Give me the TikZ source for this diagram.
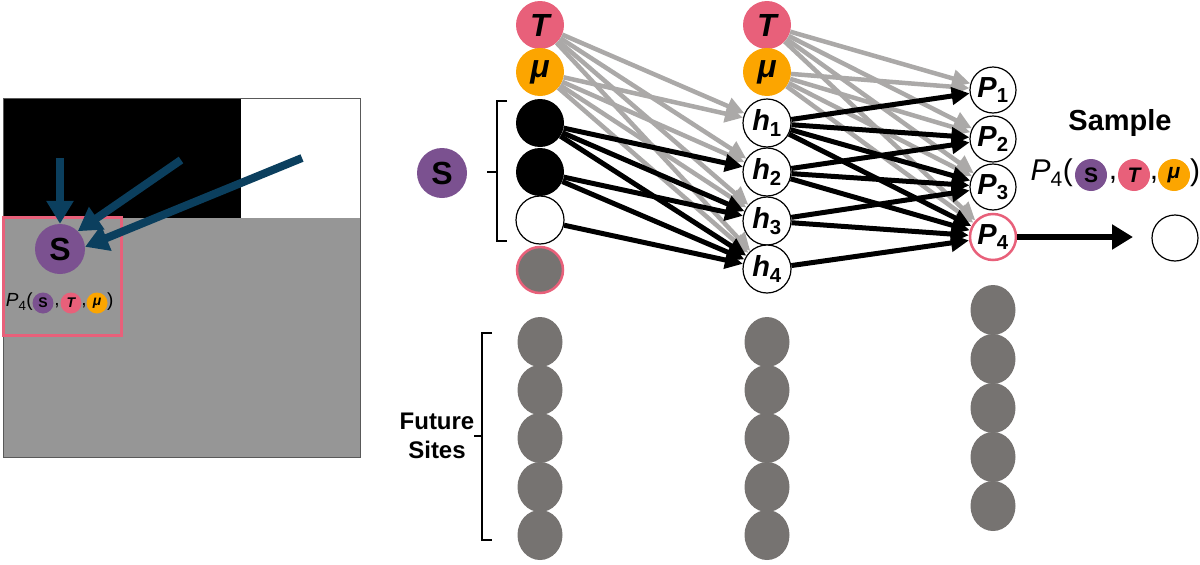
\documentclass[tikz,border=0pt]{standalone}
\usepackage{fontspec}
\setmainfont{Liberation Sans}
\usetikzlibrary{arrows.meta,shapes.geometric}
\definecolor{tcol}{HTML}{E8607A}
\definecolor{mucol}{HTML}{FCA500}
\definecolor{scol}{HTML}{7B5190}
\definecolor{navy}{HTML}{0B3F5E}
\definecolor{futgray}{HTML}{767371}
\definecolor{edgegray}{HTML}{ABA9A8}
\definecolor{panelgray}{HTML}{969696}
\newcommand\mysub[1]{\textsubscript{\upshape #1}}
\begin{document}
\begin{tikzpicture}[x=1pt,y=-1pt,
  unit/.style={circle, minimum size=48pt, inner sep=0pt, font=\fontsize{32}{32}\selectfont\bfseries\itshape},
  tnode/.style={unit, fill=tcol},
  munode/.style={unit, fill=mucol},
  blknode/.style={unit, fill=black},
  whtnode/.style={unit, draw=black, line width=1.2pt, fill=white},
  curnode/.style={unit, draw=tcol, line width=2.5pt, fill=futgray, minimum size=46pt},
  futnode/.style={ellipse, minimum width=45pt, minimum height=50pt, inner sep=0pt, fill=futgray},
  hnode/.style={unit, draw=black, line width=1.2pt, fill=white, font=\fontsize{29}{29}\selectfont\bfseries\itshape},
  pnode/.style={unit, minimum size=46pt, draw=black, line width=1.2pt, fill=white, font=\fontsize{29}{29}\selectfont\bfseries\itshape},
  gedge/.style={draw=edgegray, line width=4.5pt, -{Triangle[length=18pt,width=17pt]}},
  bedge/.style={draw=black, line width=5pt, -{Triangle[length=18pt,width=17pt]}},
  navyarrow/.style={draw=navy, line width=8pt, -{Triangle[length=23pt,width=26pt]}},
  bracket/.style={draw=black, line width=2.5pt},
  boldtxt/.style={font=\fontsize{24}{29}\selectfont\bfseries, align=center, inner sep=0pt},
  lbltxt/.style={inner sep=0pt},
  mini/.style={circle, inner sep=0pt, font=\bfseries},
  minis/.style={mini, fill=scol},
  minit/.style={mini, fill=tcol, font=\bfseries\itshape},
  minim/.style={mini, fill=mucol, font=\bfseries\itshape}
]
\useasboundingbox (0,0) rectangle (1200,565);

% ---------------- left panel ----------------
\fill[panelgray] (3,218) rectangle (360,457);
\fill[black] (3,98) rectangle (241,218);
\draw[draw=black!65, line width=0.8pt] (3,98) rectangle (360,457);
\draw[draw=tcol, line width=3pt] (3,217) rectangle (121,335);

\node[unit, minimum size=50pt, fill=scol, font=\fontsize{32}{32}\selectfont\bfseries] (Sl) at (60,249) {S};
\coordinate (a1) at (60,158);
\coordinate (a2) at (181,160);
\coordinate (a3) at (302,158);
\draw[navyarrow] (a1) -- (Sl.north);
\draw[navyarrow] (a2) -- (Sl.45);
\draw[navyarrow] (a3) -- (Sl.5);

\begin{scope}[every node/.append style={font=\fontsize{19}{19}\selectfont}]
\node[lbltxt, anchor=east] (lp) at (33,302) {\textit{P}\mysub{4}(};
\node[minis, minimum size=21pt, font=\fontsize{14}{14}\selectfont\bfseries] (ls) at (43,303) {S};
\node[lbltxt] (lc1) at (57,306) {,};
\node[minit, minimum size=21pt, font=\fontsize{14}{14}\selectfont\bfseries\itshape] (lt) at (71,303) {T};
\node[lbltxt] (lc2) at (84,306) {,};
\node[minim, minimum size=21pt, font=\fontsize{14}{14}\selectfont\bfseries\itshape] (lm) at (97,303) {μ};
\node[lbltxt, anchor=west] (lr) at (107,302) {)};
\end{scope}

% ---------------- network ----------------
\node[fill=scol, circle, minimum size=50pt, inner sep=0pt, font=\fontsize{32}{32}\selectfont\bfseries] (S) at (442,173) {S};

\node[tnode] (T1) at (540,25) {T};
\node[munode] (M1) at (540,72) {μ};
\node[blknode] (x1) at (540,123) {};
\node[blknode] (x2) at (540,172) {};
\node[whtnode] (x3) at (540,220) {};
\node[curnode] (x4) at (540,270) {};

\node[tnode] (T2) at (767,25) {T};
\node[munode] (M2) at (767,72) {μ};
\node[hnode] (h1) at (767,123) {h\mysub{1}};
\node[hnode] (h2) at (767,172) {h\mysub{2}};
\node[hnode] (h3) at (767,221) {h\mysub{3}};
\node[hnode] (h4) at (767,269) {h\mysub{4}};

\node[pnode] (P1) at (993,90) {P\mysub{1}};
\node[pnode] (P2) at (993,139) {P\mysub{2}};
\node[pnode] (P3) at (993,187) {P\mysub{3}};
\node[pnode, draw=tcol, line width=2.5pt] (P4) at (993,237) {P\mysub{4}};

% gray edges
\foreach \s in {T1,M1} \foreach \t in {h1,h2,h3,h4} \draw[gedge] (\s) -- (\t);
\foreach \s in {T2,M2} \foreach \t in {P1,P2,P3,P4} \draw[gedge] (\s) -- (\t);
% black edges layer 1
\foreach \s/\t in {x1/h2,x1/h3,x1/h4,x2/h3,x2/h4,x3/h4} \draw[bedge] (\s) -- (\t);
% black edges layer 2
\foreach \s/\t in {h1/P1,h1/P2,h1/P3,h1/P4,h2/P2,h2/P3,h2/P4,h3/P3,h3/P4,h4/P4} \draw[bedge] (\s) -- (\t);

% sample
\coordinate (sa) at (1133,237);
\draw[draw=black, line width=6pt, -{Triangle[length=21pt,width=24pt]}] (P4) -- (sa);
\node[unit, minimum size=46pt, draw=black, line width=1.2pt, fill=white] (smp) at (1175,238) {};
\node[boldtxt, font=\fontsize{29}{30}\selectfont\bfseries] (samplelbl) at (1120,123) {Sample};

\begin{scope}[every node/.append style={font=\fontsize{30}{30}\selectfont}]
\node[lbltxt, anchor=east] (rp) at (1073,173) {\textit{P}\mysub{4}(};
\node[minis, minimum size=32pt, font=\fontsize{21}{21}\selectfont\bfseries] (rs) at (1091,175) {S};
\node[lbltxt] (rc1) at (1113,180) {,};
\node[minit, minimum size=32pt, font=\fontsize{21}{21}\selectfont\bfseries\itshape] (rt) at (1134,175) {T};
\node[lbltxt] (rc2) at (1154,180) {,};
\node[minim, minimum size=32pt, font=\fontsize{21}{21}\selectfont\bfseries\itshape] (rm) at (1174,175) {μ};
\node[lbltxt, anchor=west] (rr) at (1190,173) {)};
\end{scope}

% brackets
\draw[bracket] (507,101) -- (497,101) -- (497,241) -- (507,241);
\draw[bracket] (497,172) -- (487,172);
\draw[bracket] (492,333) -- (482,333) -- (482,540) -- (492,540);
\draw[bracket] (482,436) -- (474,436);
\node[boldtxt] (fut) at (437,436) {Future\\Sites};

% future sites
\foreach \i/\y in {1/342,2/390,3/438,4/487,5/535} {
  \node[futnode] (fa\i) at (540,\y) {};
  \node[futnode] (fb\i) at (767,\y) {};
}
\foreach \i/\y in {1/310,2/359,3/408,4/457,5/506} {
  \node[futnode] (fc\i) at (993,\y) {};
}
\end{tikzpicture}
\end{document}
